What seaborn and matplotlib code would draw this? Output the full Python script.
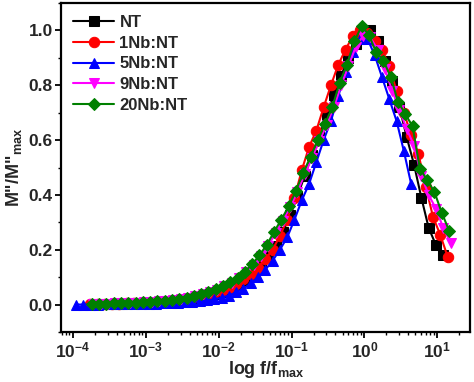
import numpy as np
import pandas as pd
import matplotlib
matplotlib.use("Agg")
import matplotlib.pyplot as plt
from matplotlib.ticker import AutoMinorLocator, MultipleLocator
import seaborn as sns

# log10(f/fmax) and normalised M''
nt_logf = [-3.72, -3.62, -3.52, -3.42, -3.32, -3.22, -3.12, -3.02, -2.92, -2.82,
           -2.72, -2.62, -2.52, -2.42, -2.32, -2.22, -2.12, -2.02, -1.92, -1.82,
           -1.72, -1.62, -1.52, -1.42, -1.32, -1.22, -1.12, -1.02, -0.92, -0.82,
           -0.72, -0.62, -0.52, -0.42, -0.32, -0.22, -0.12, -0.02, 0.08, 0.18,
           0.28, 0.38, 0.48, 0.58, 0.68, 0.78, 0.88, 0.98, 1.08]
nt_m = [0.001, 0.001, 0.002, 0.002, 0.003, 0.004, 0.005, 0.006, 0.007, 0.008,
        0.010, 0.012, 0.014, 0.017, 0.021, 0.025, 0.031, 0.038, 0.047, 0.058,
        0.072, 0.090, 0.112, 0.140, 0.175, 0.215, 0.265, 0.325, 0.395, 0.470,
        0.545, 0.615, 0.690, 0.765, 0.835, 0.900, 0.950, 0.985, 1.000, 0.960,
        0.890, 0.815, 0.720, 0.610, 0.510, 0.390, 0.280, 0.217, 0.180]

nb1_logf = [-3.76, -3.66, -3.56, -3.46, -3.36, -3.26, -3.16, -3.06, -2.96, -2.86,
            -2.76, -2.66, -2.56, -2.46, -2.36, -2.26, -2.16, -2.06, -1.96, -1.86,
            -1.76, -1.66, -1.56, -1.46, -1.36, -1.26, -1.16, -1.06, -0.96, -0.86,
            -0.76, -0.66, -0.56, -0.46, -0.36, -0.26, -0.16, -0.06, 0.04, 0.14,
            0.24, 0.34, 0.44, 0.54, 0.64, 0.74, 0.84, 0.94, 1.04, 1.14]
nb1_m = [0.001, 0.001, 0.002, 0.003, 0.003, 0.004, 0.005, 0.006, 0.007, 0.009,
         0.011, 0.013, 0.016, 0.019, 0.023, 0.028, 0.034, 0.041, 0.050, 0.061,
         0.075, 0.092, 0.112, 0.135, 0.165, 0.200, 0.250, 0.310, 0.390, 0.490,
         0.575, 0.635, 0.720, 0.800, 0.875, 0.930, 0.980, 1.000, 0.990, 0.960,
         0.930, 0.870, 0.780, 0.700, 0.620, 0.550, 0.430, 0.320, 0.254, 0.175]

nb5_logf = [-3.96, -3.86, -3.76, -3.66, -3.56, -3.46, -3.36, -3.26, -3.16, -3.06,
            -2.96, -2.86, -2.76, -2.66, -2.56, -2.46, -2.36, -2.26, -2.16, -2.06,
            -1.96, -1.86, -1.76, -1.66, -1.56, -1.46, -1.36, -1.26, -1.16, -1.06,
            -0.96, -0.86, -0.76, -0.66, -0.56, -0.46, -0.36, -0.26, -0.16, -0.06,
            0.04, 0.14, 0.24, 0.34, 0.44, 0.54, 0.64]
nb5_m = [0.000, 0.000, 0.000, 0.000, 0.001, 0.001, 0.001, 0.001, 0.002, 0.002,
         0.003, 0.003, 0.004, 0.005, 0.006, 0.008, 0.010, 0.012, 0.015, 0.019,
         0.025, 0.033, 0.044, 0.058, 0.077, 0.100, 0.127, 0.160, 0.200, 0.245,
         0.310, 0.380, 0.440, 0.520, 0.600, 0.670, 0.760, 0.850, 0.920, 0.970,
         0.970, 0.910, 0.830, 0.750, 0.670, 0.560, 0.440]

nb9_logf = [-3.72, -3.62, -3.52, -3.42, -3.32, -3.22, -3.12, -3.02, -2.92, -2.82,
            -2.72, -2.62, -2.52, -2.42, -2.32, -2.22, -2.12, -2.02, -1.92, -1.82,
            -1.72, -1.62, -1.52, -1.42, -1.32, -1.22, -1.12, -1.02, -0.92, -0.82,
            -0.72, -0.62, -0.52, -0.42, -0.32, -0.22, -0.12, -0.02, 0.08, 0.18,
            0.28, 0.38, 0.48, 0.58, 0.68, 0.78, 0.88, 0.98, 1.08, 1.18]
nb9_m = [0.001, 0.002, 0.003, 0.004, 0.005, 0.006, 0.007, 0.009, 0.010, 0.012,
         0.014, 0.017, 0.020, 0.025, 0.030, 0.037, 0.045, 0.054, 0.066, 0.080,
         0.097, 0.118, 0.145, 0.178, 0.215, 0.260, 0.305, 0.355, 0.410, 0.475,
         0.535, 0.595, 0.655, 0.720, 0.800, 0.870, 0.940, 0.980, 0.975, 0.930,
         0.860, 0.780, 0.710, 0.640, 0.580, 0.470, 0.400, 0.350, 0.280, 0.225]

nb20_logf = [-3.74, -3.64, -3.54, -3.44, -3.34, -3.24, -3.14, -3.04, -2.94, -2.84,
             -2.74, -2.64, -2.54, -2.44, -2.34, -2.24, -2.14, -2.04, -1.94, -1.84,
             -1.74, -1.64, -1.54, -1.44, -1.34, -1.24, -1.14, -1.04, -0.94, -0.84,
             -0.74, -0.64, -0.54, -0.44, -0.34, -0.24, -0.14, -0.04, 0.06, 0.16,
             0.26, 0.36, 0.46, 0.56, 0.66, 0.76, 0.86, 0.96, 1.06, 1.16]
nb20_m = [0.001, 0.002, 0.003, 0.004, 0.005, 0.006, 0.007, 0.009, 0.010, 0.012,
          0.014, 0.017, 0.020, 0.025, 0.030, 0.037, 0.046, 0.055, 0.067, 0.081,
          0.098, 0.120, 0.147, 0.180, 0.218, 0.265, 0.310, 0.358, 0.415, 0.480,
          0.540, 0.600, 0.660, 0.720, 0.810, 0.875, 0.960, 1.015, 0.985, 0.920,
          0.890, 0.830, 0.740, 0.695, 0.650, 0.495, 0.455, 0.410, 0.335, 0.270]

series = [
    ("NT", nt_logf, nt_m, "black", "s", 6.5),
    ("1Nb:NT", nb1_logf, nb1_m, "#ff0000", "o", 7.5),
    ("5Nb:NT", nb5_logf, nb5_m, "#0000ff", "^", 7.5),
    ("9Nb:NT", nb9_logf, nb9_m, "#ff00ff", "v", 7.5),
    ("20Nb:NT", nb20_logf, nb20_m, "#008000", "D", 6.5),
]

sns.set_theme(style="ticks")
plt.rcParams["font.family"] = ["Liberation Sans", "DejaVu Sans"]
plt.rcParams["font.weight"] = "bold"
plt.rcParams["mathtext.fontset"] = "custom"
plt.rcParams["mathtext.rm"] = "Liberation Sans:bold"
plt.rcParams["mathtext.it"] = "Liberation Sans:bold"
plt.rcParams["mathtext.bf"] = "Liberation Sans:bold"

fig = plt.figure(figsize=(4.74, 3.82), dpi=100)
ax = fig.add_axes([0.129, 0.131, 0.863, 0.861])

for name, logf, m, col, mk, ms in series:
    df = pd.DataFrame({"f": np.power(10.0, logf), "m": m})
    sns.lineplot(data=df, x="f", y="m", ax=ax, color=col, marker=mk,
                 markersize=ms, markeredgecolor=col, linewidth=1.5,
                 label=name, sort=False)

ax.set_xscale("log")
ax.set_xlim(10 ** -4.16, 10 ** 1.45)
ax.set_ylim(-0.1, 1.1)
ax.yaxis.set_major_locator(MultipleLocator(0.2))
ax.yaxis.set_minor_locator(AutoMinorLocator(2))
ax.tick_params(which="major", direction="out", length=4, width=1.3,
               labelsize=12.5, color="black", pad=2)
ax.tick_params(which="minor", direction="out", length=2.5, width=1.0, color="black")
ax.tick_params(axis="x", which="minor", bottom=True)
for lab in ax.get_xticklabels() + ax.get_yticklabels():
    lab.set_fontweight("bold")
for sp in ax.spines.values():
    sp.set_linewidth(1.6)
    sp.set_color("black")
    sp.set_visible(True)

ax.set_xlabel("log f/f$_{max}$", fontsize=13, fontweight="bold", labelpad=-1)
ax.set_ylabel("M\"/M\"$_{max}$", fontsize=13, fontweight="bold", labelpad=3)

leg = ax.legend(loc="upper left", frameon=False, fontsize=12, handlelength=2.5,
                handletextpad=0.3, labelspacing=0.35, borderaxespad=0.3)
for t in leg.get_texts():
    t.set_fontweight("bold")

fig.savefig("out.png", dpi=100)
